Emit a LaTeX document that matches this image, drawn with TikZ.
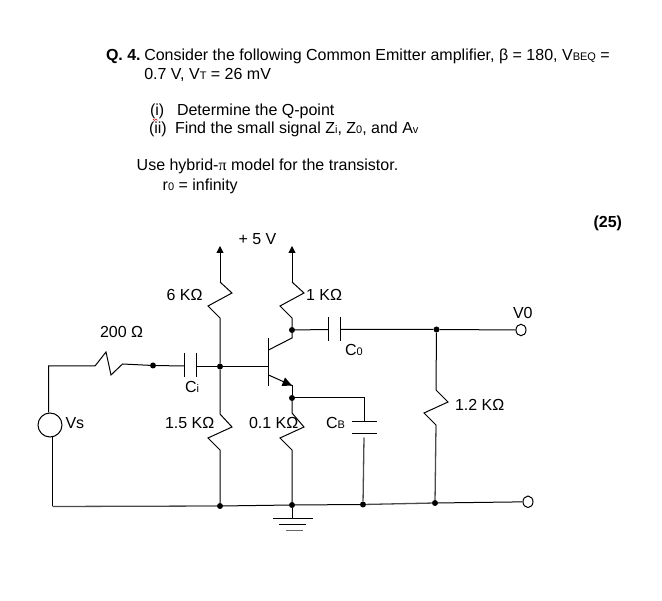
\documentclass[tikz,border=0pt]{standalone}
\usepackage{fontspec}
\setmainfont{Liberation Sans}
\newfontfamily\symfont{Liberation Serif}
\usetikzlibrary{arrows.meta,shapes.geometric}
\newcommand{\sbs}[1]{{\fontsize{11}{12}\selectfont #1}}
\tikzset{
  wire/.style={line width=1pt,black,line join=miter},
  greywire/.style={line width=1.3pt,black!70,line join=miter},
  txt/.style={anchor=base west,inner sep=0pt,outer sep=0pt,font=\fontsize{16}{18}\selectfont,text=black},
  jdot/.style={circle,fill=black,draw=none,minimum size=6pt,inner sep=0pt},
  term/.style={ellipse,draw=black,fill=white,line width=1pt,minimum width=10pt,minimum height=11.5pt,inner sep=0pt},
  source/.style={circle,draw=black,fill=white,line width=1pt,minimum size=24pt,inner sep=0pt},
  railarrow/.style={wire,-{Triangle[length=7pt,width=7pt]}}
}
\begin{document}
\begin{tikzpicture}[x=1pt,y=-1pt]
\useasboundingbox (0,0) rectangle (662,601);
\fill[white] (0,0) rectangle (662,601);
% question text
\node[txt] (q) at (106,60.5) {\textbf{Q. 4.}};
\node[txt] (l1) at (144.3,60.5) {Consider the following Common Emitter amplifier, β = 180, V\sbs{BEQ} =};
\node[txt] (l2) at (144.3,79.5) {0.7 V, V\sbs{T} = 26 mV};
\node[txt] (i) at (150,116) {(i)};
\node[txt] (id) at (177,116) {Determine the Q-point};
\node[txt] (ii) at (149,134) {(ii)};
\node[txt] (iid) at (175,134) {Find the small signal Z\sbs{i}, Z\sbs{0}, and A\sbs{v}};
\node[txt] (u) at (136.7,171) {Use hybrid-{\symfont π} model for the transistor.};
\node[txt] (r) at (162.7,190.5) {r\sbs{0} = infinity};
\node[txt,anchor=base east] (m) at (622,228) {\textbf{(25)}};
\draw[red!80!black,line width=.6pt] (153,119) -- (154.5,120.5) -- (156,119) -- (157.5,120.5);
% coordinates and nodes
\node[source] (vs) at (50,425) {};
\coordinate (tl) at (48.5,366);
\coordinate (bl) at (52.5,506.5);
\node[jdot] (d1) at (153,365.5) {};
\node[jdot] (b) at (220,366.5) {};
\node[jdot] (c) at (292,330) {};
\node[jdot] (e) at (292,398) {};
\node[jdot] (o) at (436.5,329.5) {};
\node[jdot] (g1) at (220,506) {};
\node[jdot] (g2) at (292,505) {};
\node[jdot] (g3) at (363,504.5) {};
\node[jdot] (g4) at (435,503) {};
\node[term] (t1) at (521,330) {};
\node[term] (t2) at (528,501.8) {};
\coordinate (vcc1) at (220,246);
\coordinate (vcc2) at (292,246);
% source loop
\draw[wire] (vs.north -| tl) -- (tl) -- (95,366) -- (106,352) -- (111,375) -- (122.5,364) -- (d1);
\draw[wire] (52.5,436.5) -- (bl);
\draw[greywire] (bl) -- (g1);
\draw[wire] (g1) -- (g2) -- (g3);
\draw[greywire] (g3) -- (g4);
\draw[wire] (g4) -- (t2);
% input capacitor
\draw[wire] (d1) -- (184.5,366);
\draw[wire] (184.5,353) -- (184.5,377);
\draw[wire] (196.5,353) -- (196.5,377);
\draw[wire] (196.5,366.5) -- (b);
\draw[wire] (b) -- (268.5,366.5);
% base divider
\draw[railarrow] (220,282) -- (vcc1);
\draw[wire] (220,282) -- (232,293) -- (208,306) -- (220,318) -- (b);
\draw[wire] (b) -- (220,414) -- (232,427) -- (208,438) -- (220,450) -- (g1);
% transistor
\draw[wire] (268.5,338) -- (268.5,386);
\draw[wire] (268.5,350) -- (292,338) -- (c);
\draw[wire] (268.5,375) -- (292,385.5);
\fill[black] (292,385.5) -- (281.5,386) -- (285,377.5) -- cycle;
\draw[wire] (292,385.5) -- (e);
% collector
\draw[railarrow] (292,282) -- (vcc2);
\draw[wire] (292,282) -- (304,293) -- (280,306) -- (292,318) -- (c);
\draw[wire] (c) -- (328.5,329.5);
\draw[wire] (328.5,317) -- (328.5,341.5);
\draw[wire] (340.5,317) -- (340.5,341.5);
\draw[wire] (340.5,329.5) -- (o) -- (t1);
% load
\draw[wire] (o) -- (436,390) -- (448,402) -- (424,413) -- (436,425);
\draw[greywire] (436,425) -- (g4);
% emitter
\draw[wire] (e) -- (292,413) -- (304,427) -- (280,438) -- (292,450) -- (g2);
\draw[wire] (e) -- (364.5,398) -- (364.5,422);
\draw[wire] (352,422) -- (377,422);
\draw[wire] (352,434) -- (377,434);
\draw[greywire] (364,437.5) -- (g3);
% ground
\draw[wire] (g2) -- (292,519);
\draw[wire] (272.5,519) -- (312.5,519);
\draw[wire] (279,525) -- (306,525);
\draw[wire,black!60] (286,531) -- (302.5,531);
% labels
\node[txt] (lv) at (238.5,245) {+ 5 V};
\node[txt] (l6) at (166.5,300.5) {6 KΩ};
\node[txt] (l200) at (100,338) {200 Ω};
\node[txt] (lci) at (185,392.5) {C\sbs{i}};
\node[txt] (lvs) at (65.5,429) {Vs};
\node[txt] (l15) at (165,429) {1.5 KΩ};
\node[txt] (l01) at (249,429) {0.1 KΩ};
\node[txt] (l1k) at (306,300.5) {1 KΩ};
\node[txt] (lc0) at (345,356) {C\sbs{0}};
\node[txt] (lv0) at (513,319) {V0};
\node[txt] (lcb) at (326,429) {C\sbs{B}};
\node[txt] (l12) at (455,411) {1.2 KΩ};
\end{tikzpicture}
\end{document}
